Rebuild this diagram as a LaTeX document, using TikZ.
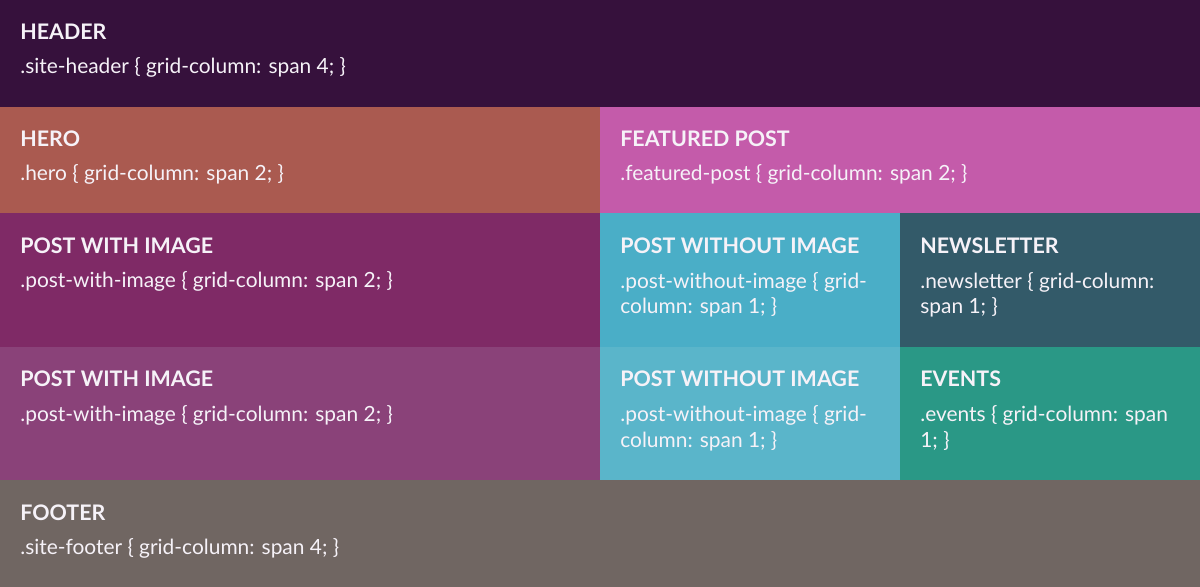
\documentclass[tikz,border=0pt]{standalone}
\usepackage{fontspec}
\setmainfont{Lato}
\definecolor{hdrbg}{HTML}{36113C}
\definecolor{herobg}{HTML}{AA5A50}
\definecolor{featbg}{HTML}{C45BAA}
\definecolor{pwiAbg}{HTML}{7F2A66}
\definecolor{pwiBbg}{HTML}{8A4279}
\definecolor{pwoAbg}{HTML}{4AAEC7}
\definecolor{pwoBbg}{HTML}{5AB5CA}
\definecolor{newsbg}{HTML}{335A69}
\definecolor{evtbg}{HTML}{2A9886}
\definecolor{footbg}{HTML}{706662}
\definecolor{txt}{HTML}{F6F2F8}
\begin{document}
\begin{tikzpicture}[x=0.02cm,y=-0.02cm,
  title/.style={anchor=base west, inner sep=0pt, text=txt,
    font=\bfseries\fontsize{12.2}{14}\selectfont},
  code/.style={anchor=base west, inner sep=0pt, text=txt, align=left,
    font=\fontsize{11.9}{14.7}\selectfont}]
  \useasboundingbox (0,0) rectangle (1200,587);
  % grid cells, one fill per area
  \fill[hdrbg] (0,0) rectangle (1200,107);
  \fill[herobg] (0,107) rectangle (600,213);
  \fill[featbg] (600,107) rectangle (1200,213);
  \fill[pwiAbg] (0,213) rectangle (600,347);
  \fill[pwoAbg] (600,213) rectangle (900,347);
  \fill[newsbg] (900,213) rectangle (1200,347);
  \fill[pwiBbg] (0,347) rectangle (600,480);
  \fill[pwoBbg] (600,347) rectangle (900,480);
  \fill[evtbg] (900,347) rectangle (1200,480);
  \fill[footbg] (0,480) rectangle (1200,587);

  % header row
  \node[title] (hdrT) at (20,40) {HEADER};
  \node[code] (hdrC) at (20,74) {.site-header \{ grid-column: span 4; \}};
  % hero and featured post
  \node[title] (heroT) at (20,147) {HERO};
  \node[code] (heroC) at (20,181) {.hero \{ grid-column: span 2; \}};
  \node[title] (featT) at (620,147) {FEATURED POST};
  \node[code] (featC) at (620,181) {.featured-post \{ grid-column: span 2; \}};
  % first post row (two-line texts sit on their last baseline)
  \node[title] (pwiAT) at (20,254) {POST WITH IMAGE};
  \node[code] (pwiAC) at (20,288) {.post-with-image \{ grid-column: span 2; \}};
  \node[title] (pwoAT) at (620,254) {POST WITHOUT IMAGE};
  \node[code] (pwoAC) at (620,314) {.post-without-image \{ grid-\\column: span 1; \}};
  \node[title] (newsT) at (920,254) {NEWSLETTER};
  \node[code] (newsC) at (920,314) {.newsletter \{ grid-column:\\span 1; \}};
  % second post row
  \node[title] (pwiBT) at (20,387) {POST WITH IMAGE};
  \node[code] (pwiBC) at (20,421) {.post-with-image \{ grid-column: span 2; \}};
  \node[title] (pwoBT) at (620,387) {POST WITHOUT IMAGE};
  \node[code] (pwoBC) at (620,447) {.post-without-image \{ grid-\\column: span 1; \}};
  \node[title] (evtT) at (920,387) {EVENTS};
  \node[code] (evtC) at (920,447) {.events \{ grid-column: span\\1; \}};
  % footer row
  \node[title] (footT) at (20,520) {FOOTER};
  \node[code] (footC) at (20,554) {.site-footer \{ grid-column: span 4; \}};
\end{tikzpicture}
\end{document}
